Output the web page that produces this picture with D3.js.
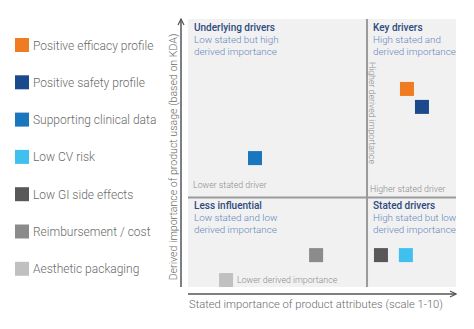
<!DOCTYPE html>
<html>
<head>
<script src="https://d3js.org/d3.v7.min.js"></script>
<style>
  body { margin: 0; background: #fff; }
  svg text { font-family: Roboto, "Liberation Sans", Arial, sans-serif; font-weight: 300; }
</style>
</head>
<body>
<svg width="474" height="329"></svg>
<script>
// attributes (legend order) with stated (x) and derived (y) importance
var attributes = ["Positive efficacy profile", "Positive safety profile", "Supporting clinical data",
  "Low CV risk", "Low GI side effects", "Reimbursement / cost", "Aesthetic packaging"];
var colors = ["#f07c21", "#1b4a8c", "#1a76bd", "#40c0ef", "#58585a", "#8b8b8b", "#c0c0c0"];
var stated = [8.17, 8.73, 2.5, 8.13, 7.2, 4.78, 1.42];
var derived = [7.39, 6.72, 4.81, 1.19, 1.19, 1.19, 0.26];

// quadrant split points
var statedSplit = 6.68, derivedSplit = 3.34;

var quadrants = [
  {title: "Underlying drivers", sub: ["Low stated but high", "derived importance"], x: 0, y: 10},
  {title: "Key drivers", sub: ["High stated and", "derived importance"], x: statedSplit, y: 10},
  {title: "Less influential", sub: ["Low stated and low", "derived importance"], x: 0, y: derivedSplit},
  {title: "Stated drivers", sub: ["High stated but low", "derived importance"], x: statedSplit, y: derivedSplit}
];

var svg = d3.select("svg");
var x = d3.scaleLinear().domain([0, 10]).range([188, 456]);
var y = d3.scaleLinear().domain([0, 10]).range([287, 19]);

svg.append("defs").append("marker")
  .attr("id", "arr").attr("viewBox", "0 0 10 10")
  .attr("refX", 9).attr("refY", 5)
  .attr("markerWidth", 5).attr("markerHeight", 5)
  .attr("orient", "auto-start-reverse")
  .append("path").attr("d", "M1,1 L9,5 L1,9").attr("fill", "none")
  .attr("stroke", "#555").attr("stroke-width", 1.6);

// background
svg.append("rect")
  .attr("x", x(0)).attr("y", y(10))
  .attr("width", x(10) - x(0)).attr("height", y(0) - y(10))
  .attr("fill", "#f1f1f2");

// dividers
svg.append("line")
  .attr("x1", x(statedSplit)).attr("x2", x(statedSplit))
  .attr("y1", y(10)).attr("y2", y(0))
  .attr("stroke", "#9a9a9a").attr("stroke-width", 2);
svg.append("line")
  .attr("x1", x(0)).attr("x2", x(10))
  .attr("y1", y(derivedSplit)).attr("y2", y(derivedSplit))
  .attr("stroke", "#9a9a9a").attr("stroke-width", 2);

// axes
svg.append("line")
  .attr("x1", 181).attr("x2", 181).attr("y1", y(0)).attr("y2", y(10))
  .attr("stroke", "#555").attr("stroke-width", 1.5).attr("marker-end", "url(#arr)");
svg.append("line")
  .attr("x1", x(0)).attr("x2", x(10)).attr("y1", 294).attr("y2", 294)
  .attr("stroke", "#555").attr("stroke-width", 1.5).attr("marker-end", "url(#arr)");

svg.append("text")
  .attr("x", x(0) + 1).attr("y", 308)
  .attr("font-size", 11.2).attr("fill", "#6a6a6a")
  .text("Stated importance of product attributes (scale 1-10)");
svg.append("text")
  .attr("transform", "translate(177," + ((y(0) + y(10)) / 2 + 4) + ") rotate(-90)")
  .attr("text-anchor", "middle")
  .attr("font-size", 10.6).attr("fill", "#6a6a6a")
  .text("Derived importance of product usage (based on KDA)");

// quadrant headings
var q = svg.selectAll(".quad").data(quadrants).enter().append("g")
  .attr("class", "quad")
  .attr("transform", function(d) { return "translate(" + (x(d.x) + 6) + "," + (y(d.y) + 12) + ")"; });
q.append("text").attr("font-size", 10).style("font-weight", 500).attr("fill", "#2d4a7d")
  .text(function(d) { return d.title; });
q.selectAll(".sub").data(function(d) { return d.sub; }).enter().append("text")
  .attr("y", function(d, i) { return 12 + i * 11.5; })
  .attr("font-size", 9.8).attr("fill", "#6587bb")
  .text(function(d) { return d; });

// pole labels
var poleStyle = function(t) { return t.attr("font-size", 8.8).attr("fill", "#8a8a8a"); };
svg.append("text").attr("x", x(0) + 5).attr("y", 188).call(poleStyle).text("Lower stated driver");
svg.append("text").attr("x", x(statedSplit) + 3).attr("y", 192).call(poleStyle).text("Higher stated driver");
svg.append("text").attr("x", 237).attr("y", 283).call(poleStyle).text("Lower derived importance");
svg.append("text").attr("transform", "translate(369,62) rotate(90)").call(poleStyle).text("Higher derived importance");

// markers
var s = 14;
svg.selectAll(".pt").data(attributes).enter().append("rect")
  .attr("class", "pt")
  .attr("x", function(d, i) { return x(stated[i]) - s / 2; })
  .attr("y", function(d, i) { return y(derived[i]) - s / 2; })
  .attr("width", s).attr("height", s)
  .attr("fill", function(d, i) { return colors[i]; });

// legend
var lg = svg.selectAll(".lg").data(attributes).enter().append("g")
  .attr("class", "lg")
  .attr("transform", function(d, i) { return "translate(15," + (45 + i * 37.3) + ")"; });
lg.append("rect").attr("y", -7).attr("width", 14).attr("height", 14)
  .attr("fill", function(d, i) { return colors[i]; });
lg.append("text").attr("x", 18).attr("y", 4.5)
  .attr("font-size", 12).attr("fill", "#6a6a6a")
  .text(function(d) { return d; });
</script>
</body>
</html>
